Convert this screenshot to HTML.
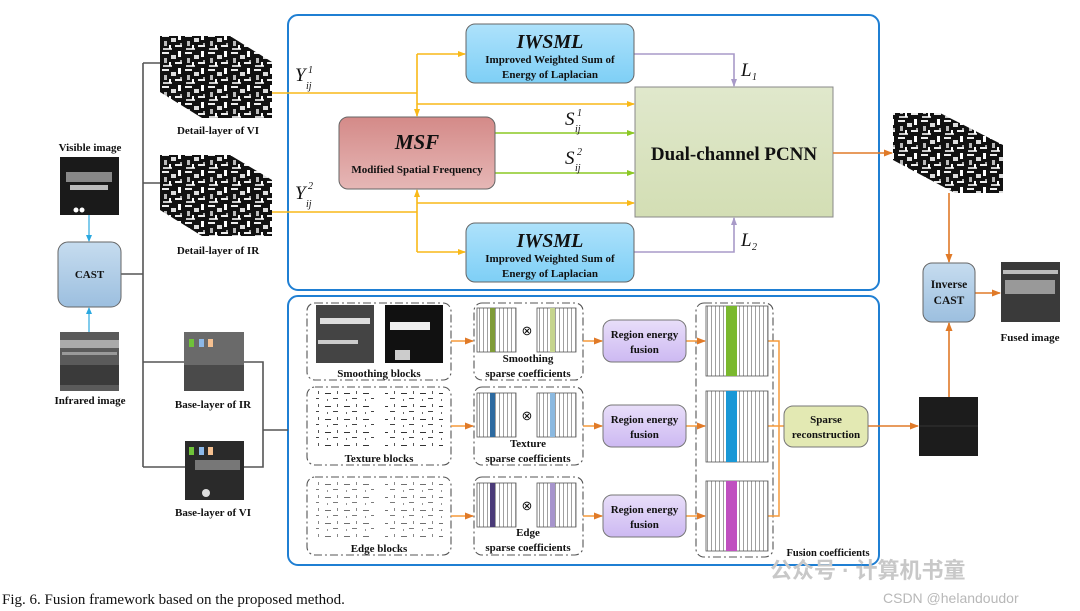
<!DOCTYPE html>
<html><head><meta charset="utf-8"><style>
html,body{margin:0;padding:0;background:#fff;width:1080px;height:611px;overflow:hidden}
svg{display:block}
text{font-family:"Liberation Serif",serif;font-weight:bold;fill:#111}
</style></head><body>
<svg width="1080" height="611" viewBox="0 0 1080 611" xmlns="http://www.w3.org/2000/svg">
<defs>
<pattern id="vl" width="4" height="10" patternUnits="userSpaceOnUse"><rect width="4" height="10" fill="#fff"/><rect x="3.3" width="0.8" height="10" fill="#777"/></pattern>
<pattern id="noise" width="23" height="17" patternUnits="userSpaceOnUse"><rect width="23" height="17" fill="#111"/><rect x="1" y="1" width="7" height="2" fill="#eee"/><rect x="10" y="4" width="5" height="4" fill="#ddd"/><rect x="3" y="7" width="3" height="5" fill="#bbb"/><rect x="17" y="0" width="3" height="6" fill="#fff"/><rect x="14" y="11" width="7" height="2" fill="#eee"/><rect x="2" y="14" width="9" height="2" fill="#ccc"/><rect x="19" y="9" width="2" height="2" fill="#aaa"/><rect x="8" y="11" width="2" height="4" fill="#fff"/></pattern>
<pattern id="edge" width="19" height="13" patternUnits="userSpaceOnUse"><rect width="19" height="13" fill="#fff"/><rect x="2" y="3" width="6" height="1" fill="#333"/><rect x="10" y="8" width="5" height="1" fill="#444"/><rect x="14" y="1" width="1" height="3" fill="#555"/><rect x="4" y="9" width="1" height="2" fill="#666"/></pattern>
<linearGradient id="gBlue" x1="0" y1="0" x2="0" y2="1"><stop offset="0" stop-color="#aee2fb"/><stop offset="1" stop-color="#7ecff6"/></linearGradient>
<linearGradient id="gRed" x1="0" y1="0" x2="0" y2="1"><stop offset="0" stop-color="#d48a88"/><stop offset="1" stop-color="#e6b7b6"/></linearGradient>
<linearGradient id="gGreen" x1="0" y1="0" x2="0" y2="1"><stop offset="0" stop-color="#e0e8cc"/><stop offset="1" stop-color="#d3deb4"/></linearGradient>
<linearGradient id="gCast" x1="0" y1="0" x2="0" y2="1"><stop offset="0" stop-color="#c6dcef"/><stop offset="1" stop-color="#9cbfdf"/></linearGradient>
<linearGradient id="gPur" x1="0" y1="0" x2="0" y2="1"><stop offset="0" stop-color="#e8def9"/><stop offset="1" stop-color="#cdb9f2"/></linearGradient>
<marker id="ay" markerWidth="8" markerHeight="8" refX="7" refY="4" orient="auto" markerUnits="userSpaceOnUse"><path d="M0,1 L8,4 L0,7z" fill="#f9b918"/></marker>
<marker id="ag" markerWidth="8" markerHeight="8" refX="7" refY="4" orient="auto" markerUnits="userSpaceOnUse"><path d="M0,1 L8,4 L0,7z" fill="#8cc824"/></marker>
<marker id="ap" markerWidth="8" markerHeight="8" refX="7" refY="4" orient="auto" markerUnits="userSpaceOnUse"><path d="M0,1 L8,4 L0,7z" fill="#a89ac8"/></marker>
<marker id="ao" markerWidth="9" markerHeight="9" refX="8" refY="4.5" orient="auto" markerUnits="userSpaceOnUse"><path d="M0,1 L9,4.5 L0,8z" fill="#e07a28"/></marker>
<marker id="ab" markerWidth="7" markerHeight="7" refX="6" refY="3.5" orient="auto" markerUnits="userSpaceOnUse"><path d="M0,0.5 L7,3.5 L0,6.5z" fill="#2aa8e0"/></marker>
</defs>

<rect x="288" y="15" width="591" height="275" rx="10" fill="none" stroke="#1f7fd3" stroke-width="2"/>
<rect x="288" y="296" width="591" height="269" rx="10" fill="none" stroke="#1f7fd3" stroke-width="2"/>

<g stroke="#555" stroke-width="1.6" fill="none">
<path d="M121,274 H143 M143,63 V467 M143,63 H162 M143,183 H162 M143,362 H184 M143,467 H185 M244,362 H263 V467 H244 M263,430 H288"/>
</g>
<rect x="60" y="157" width="59" height="58" fill="#1a1a1a"/>
<rect x="66" y="172" width="46" height="10" fill="#888"/><rect x="70" y="185" width="38" height="5" fill="#bbb"/><circle cx="76" cy="210" r="2.5" fill="#fff"/><circle cx="82" cy="210" r="2.5" fill="#fff"/>
<text x="90" y="151" font-size="11" text-anchor="middle">Visible image</text>
<line x1="89" y1="215" x2="89" y2="241" stroke="#2aa8e0" stroke-width="1.2" marker-end="url(#ab)"/>
<rect x="58" y="242" width="63" height="65" rx="10" fill="url(#gCast)" stroke="#666" stroke-width="1"/>
<text x="89.5" y="278" font-size="11" text-anchor="middle">CAST</text>
<line x1="89" y1="332" x2="89" y2="308" stroke="#2aa8e0" stroke-width="1.2" marker-end="url(#ab)"/>
<rect x="60" y="332" width="59" height="59" fill="#5a5a5a"/>
<rect x="60" y="340" width="59" height="8" fill="#aaa"/><rect x="60" y="365" width="59" height="20" fill="#3a3a3a"/><rect x="62" y="352" width="55" height="3" fill="#999"/>
<text x="90" y="404" font-size="11" text-anchor="middle">Infrared image</text>

<polygon points="160,36 230,36 272,62 272,118 202,118 160,92" fill="url(#noise)"/>
<text x="218" y="134" font-size="11" text-anchor="middle">Detail-layer of VI</text>
<polygon points="160,155 230,155 272,180 272,236 202,236 160,210" fill="url(#noise)"/>
<text x="218" y="254" font-size="11" text-anchor="middle">Detail-layer of IR</text>

<rect x="184" y="332" width="60" height="59" fill="#6a6a6a"/><rect x="184" y="365" width="60" height="26" fill="#4a4a4a"/>
<rect x="189" y="339" width="5" height="8" fill="#6fc23a"/><rect x="199" y="339" width="5" height="8" fill="#8cb8e8"/><rect x="208" y="339" width="5" height="8" fill="#f5c090"/>
<text x="213" y="408" font-size="11" text-anchor="middle">Base-layer of IR</text>
<rect x="185" y="441" width="59" height="59" fill="#2a2a2a"/><rect x="195" y="460" width="45" height="10" fill="#777"/><circle cx="206" cy="493" r="4" fill="#ddd"/>
<rect x="189" y="447" width="5" height="8" fill="#6fc23a"/><rect x="199" y="447" width="5" height="8" fill="#8cb8e8"/><rect x="208" y="447" width="5" height="8" fill="#f5c090"/>
<text x="213" y="516" font-size="11" text-anchor="middle">Base-layer of VI</text>

<g stroke="#f9b918" stroke-width="1.6" fill="none">
<path d="M272,93 H417 M417,54 V116" marker-end="url(#ay)"/>
<path d="M417,54 H465" marker-end="url(#ay)"/>
<path d="M417,104 H634" marker-end="url(#ay)"/>
<path d="M272,212 H417 M417,252 V190" marker-end="url(#ay)"/>
<path d="M417,252 H465" marker-end="url(#ay)"/>
<path d="M417,203 H634" marker-end="url(#ay)"/>
</g>
<g stroke="#8cc824" stroke-width="1.6">
<line x1="495" y1="133" x2="634" y2="133" marker-end="url(#ag)"/>
<line x1="495" y1="173" x2="634" y2="173" marker-end="url(#ag)"/>
</g>
<g stroke="#a89ac8" stroke-width="1.6" fill="none">
<path d="M634,54 H734 V86" marker-end="url(#ap)"/>
<path d="M634,252 H734 V218" marker-end="url(#ap)"/>
</g>
<rect x="466" y="24" width="168" height="59" rx="9" fill="url(#gBlue)" stroke="#666" stroke-width="1"/>
<text x="550" y="48" font-size="20" font-style="italic" text-anchor="middle">IWSML</text>
<text x="550" y="63" font-size="11" text-anchor="middle">Improved Weighted Sum of</text>
<text x="550" y="78" font-size="11" text-anchor="middle">Energy of Laplacian</text>
<rect x="466" y="223" width="168" height="59" rx="9" fill="url(#gBlue)" stroke="#666" stroke-width="1"/>
<text x="550" y="247" font-size="20" font-style="italic" text-anchor="middle">IWSML</text>
<text x="550" y="262" font-size="11" text-anchor="middle">Improved Weighted Sum of</text>
<text x="550" y="277" font-size="11" text-anchor="middle">Energy of Laplacian</text>
<rect x="339" y="117" width="156" height="72" rx="9" fill="url(#gRed)" stroke="#666" stroke-width="1"/>
<text x="417" y="149" font-size="21" font-style="italic" text-anchor="middle">MSF</text>
<text x="417" y="173" font-size="11" text-anchor="middle">Modified Spatial Frequency</text>
<rect x="635" y="87" width="198" height="130" fill="url(#gGreen)" stroke="#888" stroke-width="1"/>
<text x="734" y="160" font-size="19" text-anchor="middle">Dual-channel PCNN</text>
<g font-style="italic">
<text x="295" y="81" font-size="19" style="font-weight:normal">Y</text><text x="308" y="73" font-size="10" style="font-weight:normal">1</text><text x="306" y="89" font-size="10" style="font-weight:normal">ij</text>
<text x="295" y="199" font-size="19" style="font-weight:normal">Y</text><text x="308" y="189" font-size="10" style="font-weight:normal">2</text><text x="306" y="207" font-size="10" style="font-weight:normal">ij</text>
<text x="565" y="125" font-size="19" style="font-weight:normal">S</text><text x="577" y="116" font-size="10" style="font-weight:normal">1</text><text x="575" y="132" font-size="10" style="font-weight:normal">ij</text>
<text x="565" y="164" font-size="19" style="font-weight:normal">S</text><text x="577" y="155" font-size="10" style="font-weight:normal">2</text><text x="575" y="171" font-size="10" style="font-weight:normal">ij</text>
<text x="741" y="76" font-size="19" style="font-weight:normal">L</text><text x="752" y="80" font-size="10" style="font-weight:normal">1</text>
<text x="741" y="246" font-size="19" style="font-weight:normal">L</text><text x="752" y="250" font-size="10" style="font-weight:normal">2</text>
</g>
<line x1="833" y1="153" x2="892" y2="153" stroke="#e07a28" stroke-width="1.6" marker-end="url(#ao)"/>

<polygon points="893,113 940,113 1003,145 1003,193 955,193 893,160" fill="url(#noise)"/>
<g stroke="#e07a28" stroke-width="1.6">
<line x1="949" y1="193" x2="949" y2="262" marker-end="url(#ao)"/>
<line x1="949" y1="397" x2="949" y2="323" marker-end="url(#ao)"/>
<line x1="975" y1="293" x2="1000" y2="293" marker-end="url(#ao)"/>
<line x1="868" y1="426" x2="918" y2="426" marker-end="url(#ao)"/>
</g>
<rect x="923" y="263" width="52" height="59" rx="9" fill="url(#gCast)" stroke="#666" stroke-width="1"/>
<text x="949" y="288" font-size="11.5" text-anchor="middle">Inverse</text>
<text x="949" y="304" font-size="11.5" text-anchor="middle">CAST</text>
<rect x="1001" y="262" width="59" height="60" fill="#3a3a3a"/><rect x="1005" y="280" width="50" height="14" fill="#999"/><rect x="1003" y="270" width="55" height="4" fill="#bbb"/>
<text x="1030" y="341" font-size="11" text-anchor="middle">Fused image</text>
<rect x="919" y="397" width="59" height="59" fill="#1c1c1c"/><line x1="919" y1="426" x2="978" y2="426" stroke="#333"/>

<g fill="none" stroke="#555" stroke-width="1.1" stroke-dasharray="8,3,2,3">
<rect x="307" y="303" width="144" height="77" rx="8"/>
<rect x="307" y="387" width="144" height="78" rx="8"/>
<rect x="307" y="477" width="144" height="78" rx="8"/>
<rect x="474" y="303" width="109" height="77" rx="8"/>
<rect x="474" y="387" width="109" height="78" rx="8"/>
<rect x="474" y="477" width="109" height="78" rx="8"/>
<rect x="696" y="303" width="77" height="254" rx="8"/>
</g>
<rect x="316" y="305" width="58" height="58" fill="#444"/><rect x="320" y="318" width="50" height="6" fill="#ddd"/><rect x="318" y="340" width="40" height="4" fill="#ccc"/>
<rect x="385" y="305" width="58" height="58" fill="#111"/><rect x="390" y="322" width="40" height="8" fill="#eee"/><rect x="395" y="350" width="15" height="10" fill="#ccc"/>
<text x="379" y="377" font-size="11" text-anchor="middle">Smoothing blocks</text>
<rect x="316" y="390" width="58" height="58" fill="url(#edge)"/><rect x="385" y="390" width="58" height="58" fill="url(#edge)"/>
<text x="379" y="462" font-size="11" text-anchor="middle">Texture blocks</text>
<rect x="316" y="480" width="58" height="58" fill="url(#edge)" opacity="0.7"/><rect x="385" y="480" width="58" height="58" fill="url(#edge)" opacity="0.7"/>
<text x="379" y="552" font-size="11" text-anchor="middle">Edge blocks</text>

<g stroke="#555" stroke-width="0.8">
<rect x="477" y="308" width="39" height="44" fill="url(#vl)"/><rect x="537" y="308" width="39" height="44" fill="url(#vl)"/>
<rect x="477" y="393" width="39" height="44" fill="url(#vl)"/><rect x="537" y="393" width="39" height="44" fill="url(#vl)"/>
<rect x="477" y="483" width="39" height="44" fill="url(#vl)"/><rect x="537" y="483" width="39" height="44" fill="url(#vl)"/>
</g>
<rect x="490" y="308" width="5" height="44" fill="#7f9b38"/><rect x="550" y="308" width="5" height="44" fill="#c5d48e"/>
<rect x="490" y="393" width="5" height="44" fill="#2d6aa0"/><rect x="550" y="393" width="5" height="44" fill="#8bb9e0"/>
<rect x="490" y="483" width="5" height="44" fill="#4a3a78"/><rect x="550" y="483" width="5" height="44" fill="#a694cc"/>
<g font-size="13" text-anchor="middle"><text x="527" y="335" style="font-weight:normal">⊗</text><text x="527" y="420" style="font-weight:normal">⊗</text><text x="527" y="510" style="font-weight:normal">⊗</text></g>
<text x="528" y="362" font-size="11" text-anchor="middle">Smoothing</text>
<text x="528" y="377" font-size="11" text-anchor="middle">sparse coefficients</text>
<text x="528" y="447" font-size="11" text-anchor="middle">Texture</text>
<text x="528" y="462" font-size="11" text-anchor="middle">sparse coefficients</text>
<text x="528" y="536" font-size="11" text-anchor="middle">Edge</text>
<text x="528" y="551" font-size="11" text-anchor="middle">sparse coefficients</text>

<g stroke="#f59a3a" stroke-width="1.5">
<line x1="451" y1="341" x2="473" y2="341" marker-end="url(#ao)"/><line x1="451" y1="426" x2="473" y2="426" marker-end="url(#ao)"/><line x1="451" y1="516" x2="473" y2="516" marker-end="url(#ao)"/>
<line x1="583" y1="341" x2="602" y2="341" marker-end="url(#ao)"/><line x1="583" y1="426" x2="602" y2="426" marker-end="url(#ao)"/><line x1="583" y1="516" x2="602" y2="516" marker-end="url(#ao)"/>
<line x1="686" y1="341" x2="705" y2="341" marker-end="url(#ao)"/><line x1="686" y1="426" x2="705" y2="426" marker-end="url(#ao)"/><line x1="686" y1="516" x2="705" y2="516" marker-end="url(#ao)"/>
<path d="M768,341 H779 V516 H768 M768,426 H784" fill="none"/>
</g>
<rect x="603" y="320" width="83" height="42" rx="9" fill="url(#gPur)" stroke="#777"/>
<rect x="603" y="405" width="83" height="42" rx="9" fill="url(#gPur)" stroke="#777"/>
<rect x="603" y="495" width="83" height="42" rx="9" fill="url(#gPur)" stroke="#777"/>
<g font-size="11" text-anchor="middle">
<text x="644.5" y="338">Region energy</text><text x="644.5" y="353">fusion</text>
<text x="644.5" y="423">Region energy</text><text x="644.5" y="438">fusion</text>
<text x="644.5" y="513">Region energy</text><text x="644.5" y="528">fusion</text>
</g>
<g stroke="#555" stroke-width="0.8">
<rect x="706" y="306" width="62" height="70" fill="url(#vl)"/>
<rect x="706" y="391" width="62" height="71" fill="url(#vl)"/>
<rect x="706" y="481" width="62" height="70" fill="url(#vl)"/>
</g>
<rect x="726" y="306" width="11" height="70" fill="#7ab82e"/><rect x="726" y="391" width="11" height="71" fill="#1a98d6"/><rect x="726" y="481" width="11" height="70" fill="#c050c0"/>
<rect x="784" y="406" width="84" height="41" rx="9" fill="#e3e9b3" stroke="#777"/>
<text x="826" y="423" font-size="11" text-anchor="middle">Sparse</text>
<text x="826" y="438" font-size="11" text-anchor="middle">reconstruction</text>
<text x="828" y="556" font-size="10.5" text-anchor="middle">Fusion coefficients</text>

<text x="770" y="578" font-size="22" style="fill:#c8c8c8;font-family:'Liberation Sans','Noto Sans CJK SC',sans-serif">公众号 · 计算机书童</text>
<text x="883" y="603" font-size="14" style="fill:#b8b8b8;font-weight:normal;font-family:'Liberation Sans',sans-serif">CSDN @helandoudor</text>
<text x="2" y="604" font-size="15" style="font-weight:normal">Fig. 6.   Fusion framework based on the proposed method.</text>
</svg>
</body></html>
